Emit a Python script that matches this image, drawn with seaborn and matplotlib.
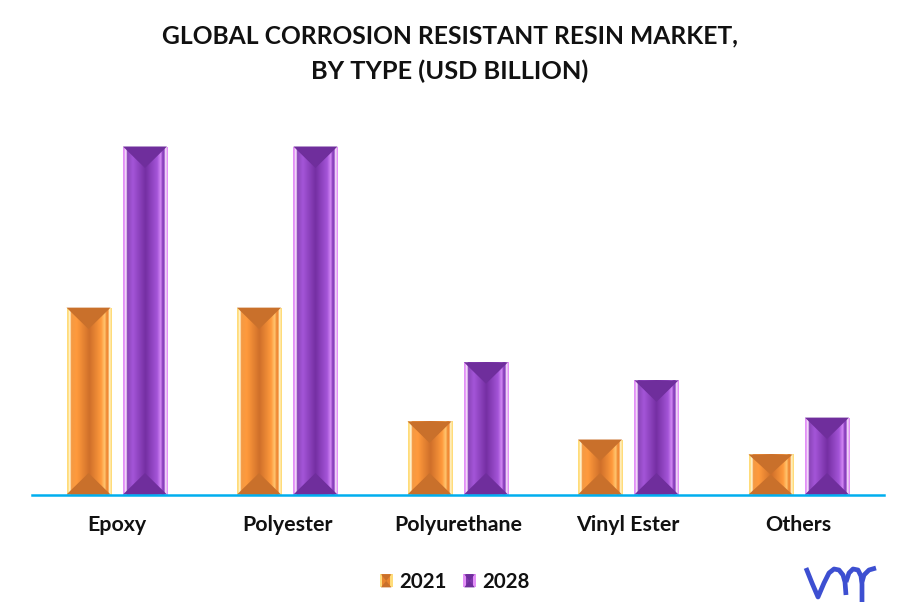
# Import Libraries
import pandas as pd
import numpy as np
import matplotlib
matplotlib.use('Agg')
import matplotlib.pyplot as plt
import seaborn as sns
from matplotlib.colors import LinearSegmentedColormap
from matplotlib.legend_handler import HandlerBase
from matplotlib.lines import Line2D
from matplotlib.patches import Patch, Polygon, Rectangle

W, H = 899, 616
DPI = 100

sns.set_theme(style='white')
plt.rcParams['font.family'] = ['Lato', 'DejaVu Sans']

types = ['Epoxy', 'Polyester', 'Polyurethane', 'Vinyl Ester', 'Others']
df = pd.DataFrame({
    'type': types * 2,
    'year': ['2021'] * 5 + ['2028'] * 5,
    'value': [5.37, 5.37, 2.10, 1.58, 1.15,
              10.0, 10.0, 3.80, 3.28, 2.21],
})

# gradient stops across one bar, left to right
styles = {
    '2021': {'base': '#e8852f', 'cap': '#c9702b',
             'stops': [(0, '#ffdc7a'), (.035, '#ffdc7a'), (.05, '#fff3d0'), (.075, '#fff3d0'), (.09, '#f49a45'),
                       (.22, '#ff9a3c'), (.50, '#cf6f2a'), (.76, '#ff9a3c'), (.84, '#ffc670'),
                       (.88, '#f08a35'), (.92, '#f08a35'), (.935, '#fff0c0'), (.965, '#fff0c0'),
                       (.975, '#ffdc7a'), (1, '#ffdc7a')]},
    '2028': {'base': '#7f35ad', 'cap': '#6f2e9c',
             'stops': [(0, '#e390f7'), (.035, '#e390f7'), (.05, '#f6e0fb'), (.075, '#f6e0fb'), (.09, '#8a45b8'),
                       (.22, '#a455d8'), (.50, '#752fa3'), (.76, '#a455d8'), (.84, '#d488f5'),
                       (.88, '#8a40bd'), (.92, '#8a40bd'), (.935, '#f3d8fa'), (.965, '#f3d8fa'),
                       (.975, '#e390f7'), (1, '#e390f7')]},
}

fig = plt.figure(figsize=(W / DPI, H / DPI), dpi=DPI)
ax = fig.add_axes([31.5 / W, 1 - 494.5 / H, 852.5 / W, 394.5 / H])

sns.barplot(data=df, x='type', y='value', hue='year', order=types,
            palette={k: v['base'] for k, v in styles.items()},
            width=0.662, gap=0.22, legend=False, ax=ax)

ymax = 394.5 / 34.8
ax.set_xlim(-0.5, 4.5)
ax.set_ylim(0, ymax)
px_to_val = ymax / 394.5

# shade every bar from the geometry seaborn gave it
for container, year in zip(ax.containers, ['2021', '2028']):
    st = styles[year]
    cmap = LinearSegmentedColormap.from_list(year, st['stops'], N=512)
    for bar in container:
        x0, w, h = bar.get_x(), bar.get_width(), bar.get_height()
        ax.imshow(np.linspace(0, 1, 512)[None, :], cmap=cmap, vmin=0, vmax=1, aspect='auto',
                  extent=[x0, x0 + w, 0, h], zorder=3, interpolation='bilinear')
        d = min(21.5 * px_to_val, h / 2)
        xm = x0 + w / 2
        ax.add_patch(Polygon([(x0, h), (x0 + w, h), (xm, h - d)], fc=st['cap'], ec='none', zorder=4))
        ax.add_patch(Polygon([(x0, 0), (x0 + w, 0), (xm, d)], fc=st['cap'], ec='none', zorder=4))
ax.set_xlim(-0.5, 4.5)
ax.set_ylim(0, ymax)

sns.despine(ax=ax, left=True)
ax.spines['bottom'].set_color('#00aeef')
ax.spines['bottom'].set_linewidth(1.8)
ax.spines['bottom'].set_zorder(6)
ax.set_yticks([])
ax.set_xlabel('')
ax.set_ylabel('')
ax.tick_params(axis='x', length=0, pad=14.5)
ax.set_xticks(range(5))
ax.set_xticklabels(types, fontsize=15.4, fontweight='bold', color='#111111')

fig.text(449.5 / W, 1 - 36 / H, 'GLOBAL CORROSION RESISTANT RESIN MARKET,', ha='center', va='center',
         fontsize=17.7, fontweight='bold', color='#111111')
fig.text(450 / W, 1 - 71 / H, 'BY TYPE (USD BILLION)', ha='center', va='center',
         fontsize=18.3, fontweight='bold', color='#111111')


class BarIcon(HandlerBase):
    def create_artists(self, legend, orig, xd, yd, width, height, fontsize, trans):
        st = styles[orig.get_label()]
        s = 9.4
        x0 = -xd + (width - s) / 2
        y0 = -yd + (height - s) / 2
        xm, ym = x0 + s / 2, y0 + s / 2
        return [
            Rectangle((x0, y0), s, s, fc=st['stops'][0][1], ec='none', transform=trans),
            Rectangle((x0 + s * .2, y0), s * .6, s, fc=st['base'], ec='none', transform=trans),
            Polygon([(x0 + s * .1, y0), (x0 + s * .9, y0), (xm, ym)], fc=st['cap'], ec='none', transform=trans),
            Polygon([(x0 + s * .1, y0 + s), (x0 + s * .9, y0 + s), (xm, ym)], fc=st['cap'], ec='none', transform=trans),
        ]


handles = [Patch(label=y) for y in styles]
leg = fig.legend(handles=handles, labels=list(styles), handler_map={Patch: BarIcon()},
                 loc='center', bbox_to_anchor=(454.5 / W, 1 - 582 / H), ncol=2, frameon=False,
                 prop={'size': 14.7, 'weight': 'bold'}, handlelength=0.65, handletextpad=0.29,
                 columnspacing=0.82)
for t in leg.get_texts():
    t.set_color('#111111')

# vmr logo
logo = [[(806, 568), (812, 583), (818, 597), (824, 583), (829, 573), (834, 569), (839, 570), (843, 575),
         (845, 582), (846, 595)],
        [(846, 582), (849, 573), (853, 569), (858, 570), (861, 576), (862, 584), (862, 602)],
        [(862, 582), (864, 575), (869, 570), (876, 568)]]
for seg in logo:
    xs, ys = zip(*seg)
    fig.add_artist(Line2D(np.array(xs) / W, 1 - np.array(ys) / H, color='#3d4fd1', lw=3.4,
                          solid_capstyle='butt', solid_joinstyle='round'))

fig.savefig('out.png', dpi=DPI, facecolor='white')
